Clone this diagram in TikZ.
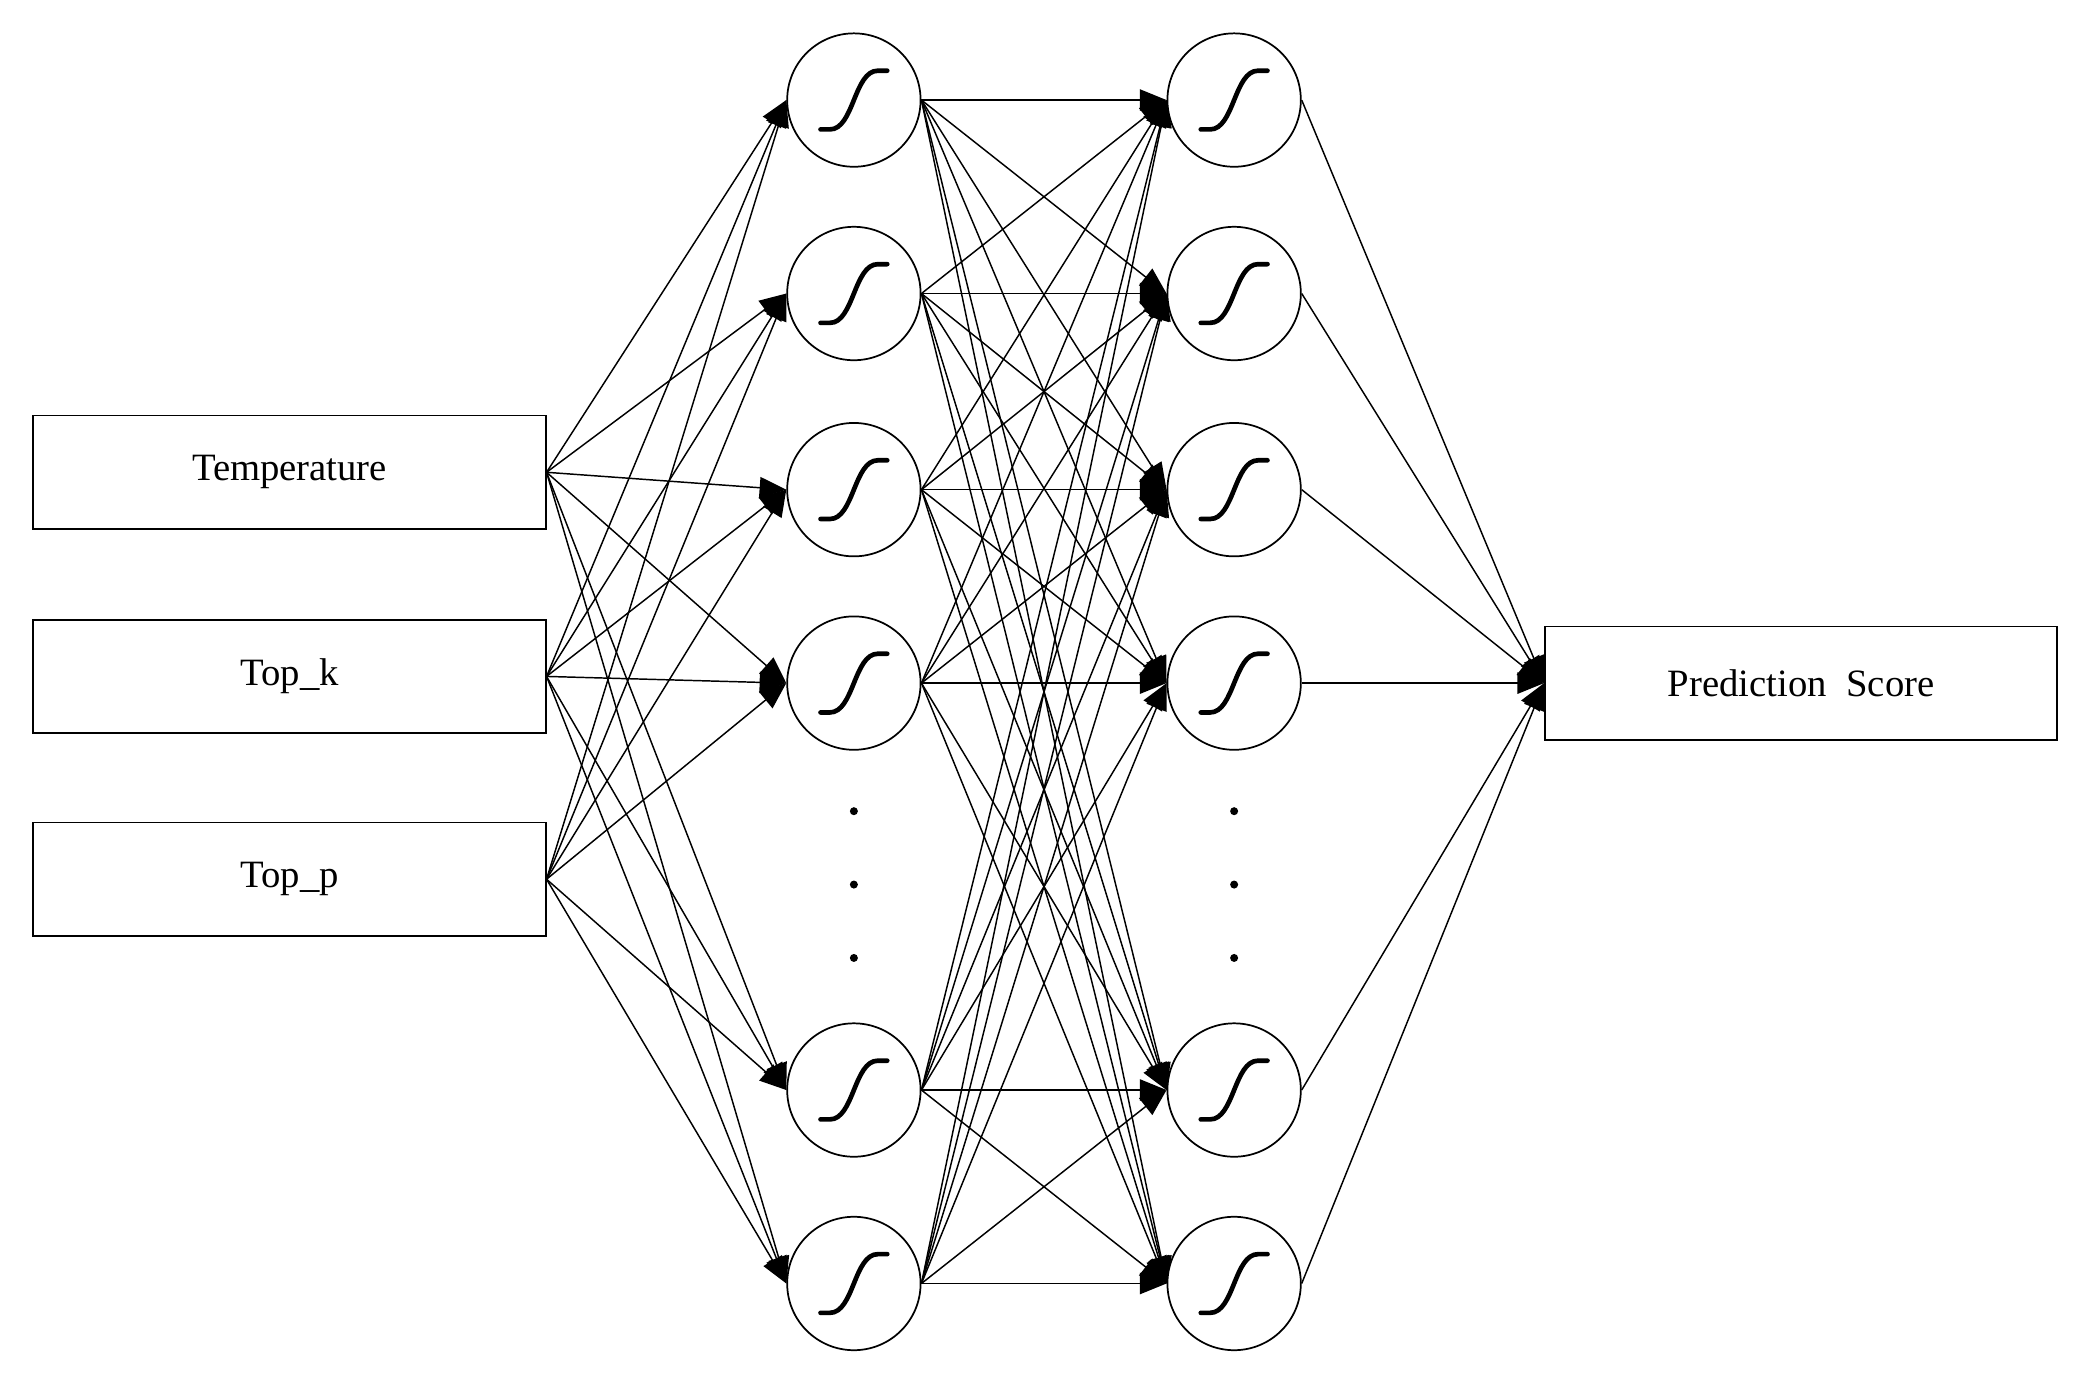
\documentclass[tikz,border=0pt]{standalone}
\usepackage{fontspec}
\setmainfont{Liberation Serif}
\usetikzlibrary{arrows.meta}
\begin{document}
\begin{tikzpicture}[x=1pt,y=-1pt,
  box/.style={draw,line width=1.3pt,minimum width=384pt,minimum height=85pt,inner sep=0pt,font=\fontsize{29}{34}\selectfont},
  neu/.style={draw,circle,line width=1.3pt,minimum size=100pt,inner sep=0pt},
  con/.style={line width=1.1pt,-{Triangle[length=20pt,width=16pt]}},
  plain/.style={line width=1.1pt},
  sig/.style={line width=3.5pt,line cap=round}]
\useasboundingbox (0,0) rectangle (1568,1032);
\node[box] (t) at (217,354) {Temperature};
\node[box] (k) at (217,507) {Top\_k};
\node[box] (p) at (217,659) {Top\_p};
\node[box] (o) at (1350,512) {Prediction\ \ Score};
\foreach \i/\y in {1/75,2/220,3/367,4/512,5/817,6/962}{
  \node[neu] (a\i) at (640,\y) {};
  \node[neu] (b\i) at (925,\y) {};
  \draw[sig] (615,\y+22) -- (622,\y+22) .. controls (640,\y+22) and (640,\y-22) .. (658,\y-22) -- (665,\y-22);
  \draw[sig] (900,\y+22) -- (907,\y+22) .. controls (925,\y+22) and (925,\y-22) .. (943,\y-22) -- (950,\y-22);
}
\foreach \y in {608,663,718}{
  \fill (640,\y) circle (3pt) coordinate (da\y);
  \fill (925,\y) circle (3pt) coordinate (db\y);
}
\foreach \s in {t,k,p}{\foreach \i in {1,...,6}{\draw[con] (\s.east) -- (a\i.west);}}
\foreach \i in {1,...,6}{\foreach \j in {1,...,6}{\draw[con] (a\i.east) -- (b\j.west);}}
\foreach \i in {1,...,6}{\draw[con] (b\i.east) -- (o.west);}
\end{tikzpicture}
\end{document}
